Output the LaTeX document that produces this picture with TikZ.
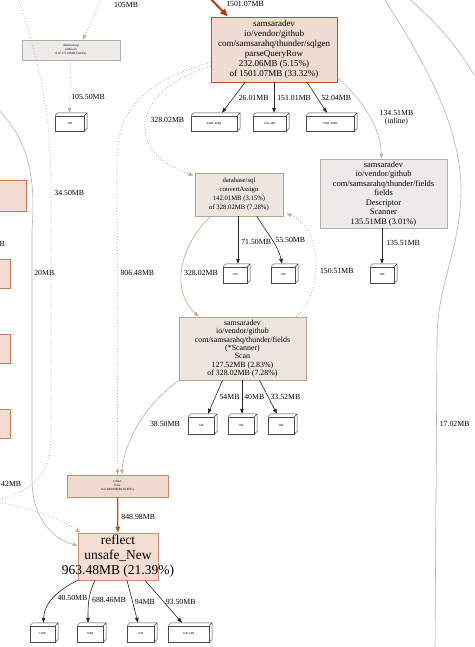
\documentclass[tikz,border=0pt]{standalone}
\usepackage{fontspec}
\setmainfont{Liberation Serif}
\usetikzlibrary{arrows.meta, calc}

\definecolor{hotfill}{HTML}{F1DCD3}
\definecolor{hotline}{HTML}{B5552D}
\definecolor{warmfill}{HTML}{EDE6E0}
\definecolor{warmline}{HTML}{B8A38E}
\definecolor{coolfill}{HTML}{ECEBE8}
\definecolor{coolline}{HTML}{B3AEA7}
\definecolor{newfill}{HTML}{EFD9CF}
\definecolor{newedge}{HTML}{C98A6B}
\definecolor{topfill}{HTML}{F4DED4}
\definecolor{topline}{HTML}{D4916F}
\definecolor{sidefill}{HTML}{F3DCD2}
\definecolor{sideline}{HTML}{CC7A57}
\definecolor{greyedge}{HTML}{B9B3AB}
\definecolor{tanedge}{HTML}{C2A88F}
\definecolor{rededge}{HTML}{B23A0D}
\definecolor{rustedge}{HTML}{B8581E}

\begin{document}
\begin{tikzpicture}[x=1pt, y=-1pt, >={Triangle[length=5pt,width=3.6pt]},
        fn/.style={draw, align=center, inner sep=1pt, line width=0.7pt},
        tag/.style={draw=black!70, fill=white, inner sep=0pt, minimum height=15pt, font=\fontsize{3}{3.5}\selectfont},
        face/.style={draw=black!70, line width=0.5pt},
        lbl/.style={font=\fontsize{7.8}{8.6}\selectfont, inner sep=1pt, align=center},
        hard/.style={->, draw=black!85, line width=0.6pt},
        soft/.style={draw=greyedge, line width=0.6pt},
        dots/.style={draw=greyedge, line width=0.8pt, dotted}]
    \useasboundingbox (0,0) rectangle (474,647);
    \fill[white] (0,0) rectangle (474,647);
    \clip (0,0) rectangle (474,647);

    % function nodes
    \node[fn, fill=hotfill, draw=hotline, minimum width=126pt, minimum height=65pt, font=\fontsize{9}{10}\selectfont] (pqr) at (274,49.5)
        {samsaradev\\io/vendor/github\\com/samsarahq/thunder/sqlgen\\parseQueryRow\\232.06MB (5.15\%)\\of 1501.07MB (33.32\%)};
    \node[fn, fill=coolfill, draw=coolline, minimum width=98pt, minimum height=20pt, font=\fontsize{3.2}{4}\selectfont] (wl) at (71,50)
        {database/sql\\withLock\\0 of 173.10MB (3.84\%)};
    \node[fn, fill=coolfill, draw=coolline, minimum width=127pt, minimum height=69pt, font=\fontsize{8.4}{9.5}\selectfont] (fds) at (383.5,193.5)
        {samsaradev\\io/vendor/github\\com/samsarahq/thunder/fields\\fields\\Descriptor\\Scanner\\135.51MB (3.01\%)};
    \node[fn, fill=warmfill, draw=warmline, minimum width=88pt, minimum height=43pt, font=\fontsize{6.7}{9}\selectfont] (ca) at (239,194.5)
        {database/sql\\convertAssign\\142.01MB (3.15\%)\\of 328.02MB (7.28\%)};
    \node[fn, fill=warmfill, draw=warmline, minimum width=127pt, minimum height=63pt, font=\fontsize{7.9}{8.3}\selectfont] (scan) at (242.5,348.5)
        {samsaradev\\io/vendor/github\\com/samsarahq/thunder/fields\\(*Scanner)\\Scan\\127.52MB (2.83\%)\\of 328.02MB (7.28\%)};
    \node[fn, fill=newfill, draw=newedge, minimum width=101pt, minimum height=22pt, font=\fontsize{3.2}{4}\selectfont] (nw) at (117.5,486)
        {reflect\\New\\0 of 848.98MB (18.85\%)};
    \node[fn, fill=topfill, draw=topline, minimum width=80pt, minimum height=47pt, font=\fontsize{13.5}{15}\selectfont] (un) at (118,556.5)
        {reflect\\unsafe\_New\\\makebox[0pt]{963.48MB (21.39\%)}};

    % nodes cut by the left edge
    \node[fn, fill=sidefill, draw=sideline, minimum width=70pt, minimum height=31pt] (side1) at (-9,195.5) {};
    \node[fn, fill=sidefill, draw=sideline, minimum width=70pt, minimum height=29pt] (side2) at (-25,273.5) {};
    \node[fn, fill=sidefill, draw=sideline, minimum width=70pt, minimum height=29pt] (side3) at (-25,348.5) {};
    \node[fn, fill=sidefill, draw=sideline, minimum width=70pt, minimum height=29pt] (side4) at (-25,423.5) {};

    % allocation size tags
    \node[tag, minimum width=29pt] (t32a) at (69.5,123.5) {32B};
    \node[tag, minimum width=46pt] (t44k) at (214,123.5) {44kB..48kB};
    \node[tag, minimum width=33pt] (t16b) at (269.5,123.5) {16B..48B};
    \node[tag, minimum width=48pt] (t704) at (330,123.5) {704B..896B};
    \node[tag, minimum width=24pt, minimum height=16pt] (t48a) at (382,275) {48B};
    \node[tag, minimum width=24pt, minimum height=16pt] (t32b) at (235,275) {32B};
    \node[tag, minimum width=24pt, minimum height=16pt] (t16c) at (283,275) {16B};
    \node[tag, minimum width=26pt, minimum height=17pt] (t32c) at (201,425.5) {32B};
    \node[tag, minimum width=26pt, minimum height=17pt] (t16d) at (241,425.5) {16B};
    \node[tag, minimum width=26pt, minimum height=17pt] (t48b) at (281,425.5) {48B};
    \node[tag, minimum width=25pt, minimum height=16pt] (t128) at (42.5,634) {128B};
    \node[tag, minimum width=26pt, minimum height=16pt] (t704b) at (90,634) {704B};
    \node[tag, minimum width=27pt, minimum height=16pt] (t16e) at (140.5,634) {16B};
    \node[tag, minimum width=41pt, minimum height=16pt] (t3264) at (188.5,634) {32B..64B};
    \foreach \n in {t32a,t44k,t16b,t704,t48a,t32b,t16c,t32c,t16d,t48b,t128,t704b,t16e,t3264}
        \draw[face] (\n.north west) -- ++(3pt,3pt) -| ($(\n.south east)+(3pt,3pt)$) -- (\n.south east)
            (\n.north east) -- ++(3pt,3pt);

    % loose ends
    \coordinate (c1501) at (204,-8);
    \coordinate (c105) at (104,-6);
    \coordinate (c20) at (-3,108);
    \coordinate (c34) at (18,-3);
    \coordinate (c34b) at (-3,500);
    \coordinate (c42) at (-3,502);
    \coordinate (c17) at (383,-3);
    \coordinate (c17b) at (435,650);
    \coordinate (c0a) at (407,-3);
    \coordinate (c0b) at (477,80);

    % edges
    \draw[->, >={Triangle[length=8pt,width=6pt]}, draw=rededge, line width=2pt] (c1501) -- node[lbl, pos=0.47, right=9pt] {1501.07MB} ([xshift=-46pt]pqr.north);
    \draw[dots, ->] (c105) -- node[lbl, pos=0.25, right=14pt] {105MB} ([xshift=12pt]wl.north);
    \draw[dots, ->] (wl) -- node[lbl, pos=0.7, right] {105.50MB} ([yshift=3pt]t32a.north);
    \draw[hard] ([xshift=-29pt]pqr.south) -- node[lbl, right=4pt] {26.01MB} ([xshift=8pt,yshift=3pt]t44k.north);
    \draw[hard] ([xshift=0pt]pqr.south) -- node[lbl, right=2pt] {151.01MB} ([xshift=4.5pt,yshift=3pt]t16b.north);
    \draw[hard] ([xshift=33pt]pqr.south) -- node[lbl, right=3pt] {52.04MB} ([xshift=-3pt,yshift=3pt]t704.north);
    \draw[soft, ->] ([yshift=5pt]pqr.south east) .. controls (362,100) and (380,125) .. node[lbl, pos=0.55, right=8pt] {134.51MB\\(inline)} ([xshift=-2pt]fds.north);
    \draw[dots, draw=tanedge, ->] ([yshift=16pt]pqr.south west) .. controls (135,88) and (120,150) .. node[lbl, right=3pt] {328.02MB} ([xshift=-1pt,yshift=-3pt]ca.north west);
    \draw[dots, draw=tanedge, ->] ([yshift=20pt]pqr.south west) .. controls (150,80) and (117,105) .. (117,160) -- node[lbl, pos=0.36, right=2pt] {806.48MB} (nw.north);
    \draw[hard] ([xshift=-1pt]ca.south) -- node[lbl, pos=0.55, right=2pt] {71.50MB} ([xshift=3pt,yshift=3pt]t32b.north);
    \draw[hard] ([xshift=18pt]ca.south) .. controls (268,235) and (278,245) .. node[lbl, right=2pt] {55.50MB} ([xshift=-1pt,yshift=3pt]t16c.north);
    \draw[->, draw=tanedge, line width=0.6pt] ([xshift=16pt]ca.south west) .. controls (180,245) and (170,290) .. node[lbl, pos=0.55, right=1pt] {328.02MB} ([xshift=20pt]scan.north west);
    \draw[dots, ->] ([xshift=-10pt]scan.north east) .. controls (325,290) and (322,228) .. node[lbl, pos=0.42, right=3pt] {150.51MB} ([xshift=3pt,yshift=3pt]ca.south east);
    \draw[hard] ([xshift=-1.5pt]fds.south) -- node[lbl, pos=0.42, right=3pt] {135.51MB} ([yshift=3pt]t48a.north);
    \draw[hard] ([xshift=-20pt]scan.south) -- node[lbl, right=3pt] {54MB} ([xshift=7pt,yshift=3pt]t32c.north);
    \draw[hard] ([xshift=-0.5pt]scan.south) -- node[lbl, right=1pt] {40MB} ([xshift=1pt,yshift=3pt]t16d.north);
    \draw[hard] ([xshift=17pt]scan.south) -- node[lbl, right=1pt] {33.52MB} ([xshift=-4pt,yshift=3pt]t48b.north);
    \draw[soft, ->] (scan.south west) .. controls (145,405) and (125,440) .. node[lbl, right=10pt] {38.50MB} ([xshift=4pt]nw.north);
    \draw[->, >={Triangle[length=6pt,width=4.5pt]}, draw=rustedge, line width=1.3pt] (nw) -- node[lbl, pos=0.55, right=2pt] {848.98MB} (un);
    \draw[hard] (un.south west) .. controls (58,590) and (44,603) .. node[lbl, right=3pt] {40.50MB} ([xshift=1pt,yshift=3pt]t128.north);
    \draw[hard] ([xshift=-23pt]un.south) .. controls (88,595) and (88,605) .. node[lbl, right=2pt] {688.46MB} ([xshift=-2pt,yshift=3pt]t704b.north);
    \draw[hard] ([xshift=9pt]un.south) -- node[lbl, right=1pt] {94MB} ([xshift=-2.5pt,yshift=3pt]t16e.north);
    \draw[hard] ([xshift=27pt]un.south) -- node[lbl, right=1pt] {93.50MB} ([xshift=-6.5pt,yshift=3pt]t3264.north);
    \draw[soft, ->] (c20) .. controls (28,140) and (36,175) .. (32,230) -- node[lbl, pos=0.17, right=1pt] {20MB} (32,480)
        .. controls (32,520) and (55,540) .. ([yshift=11pt]un.west);
    \draw[dots] (c34) .. controls (42,70) and (51,120) .. (51,185) -- node[lbl, pos=0.03, right=2pt] {34.50MB} (51,440)
        .. controls (51,475) and (30,492) .. (c34b);
    \draw[dots, ->] (c42) .. controls (30,508) and (60,518) .. ([xshift=3pt]un.north west);
    \node[lbl, anchor=west] (l42) at (0,484) {42MB};
    \node[lbl, anchor=east] (lb) at (6,244) {B};
    \draw[soft] (c17) .. controls (430,70) and (468,140) .. (460,210) .. controls (455,260) and (437,290) .. (437,340)
        -- node[lbl, pos=0.27, right=2pt] {17.02MB} (c17b);
    \draw[soft] (c0a) .. controls (440,25) and (460,50) .. (c0b);
\end{tikzpicture}
\end{document}
